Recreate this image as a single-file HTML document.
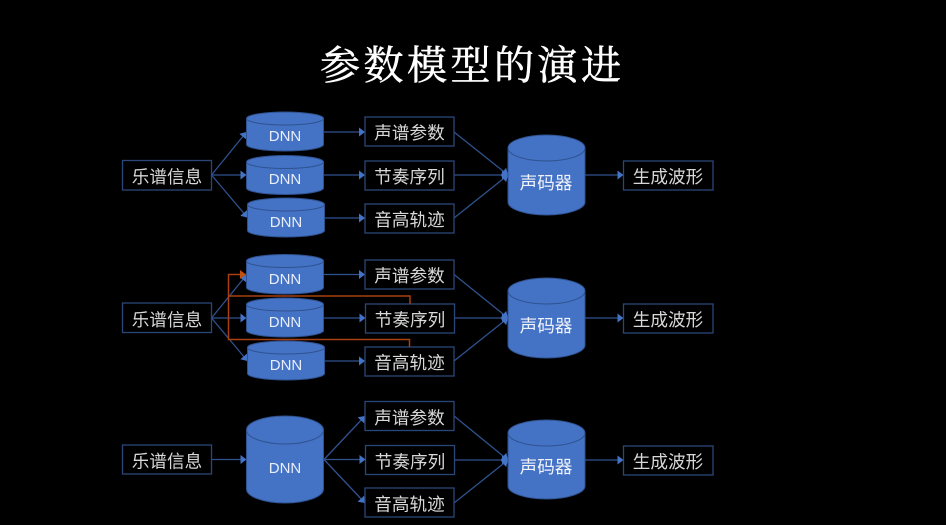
<!DOCTYPE html>
<html><head><meta charset="utf-8">
<style>
html,body{margin:0;padding:0;background:#000;width:946px;height:525px;overflow:hidden}
svg{display:block;filter:blur(.35px)}
text{font-family:"Liberation Sans","Noto Sans CJK SC",sans-serif;font-size:17.6px;fill:#d8d8d8;text-anchor:middle}
.n{transform:translateY(1px)}
.t{font-family:"Noto Serif CJK SC","Liberation Serif",serif;font-size:40px;fill:#fff;stroke:#fff;stroke-width:.5px;letter-spacing:3.5px;text-anchor:start}
.d{font-size:15px;fill:#e8eefa}
.c{fill:#f0f3fb}
.b{fill:#000;stroke:#2b4679;stroke-width:1.3}
.y{fill:#4472c4;stroke:#2f528f;stroke-width:1}
.l{fill:none;stroke:#2f528f;stroke-width:1.3;marker-end:url(#a)}
.o{fill:none;stroke:#a8400f;stroke-width:1.5}
</style></head><body>
<svg width="946" height="525" viewBox="0 0 946 525" xmlns="http://www.w3.org/2000/svg">
<defs>
<marker id="a" markerUnits="userSpaceOnUse" markerWidth="7" markerHeight="10" refX="6" refY="4.5" orient="auto"><path d="M0 0L6 4.5L0 9Z" fill="#4472c4"/></marker>
<marker id="r" markerUnits="userSpaceOnUse" markerWidth="7" markerHeight="10" refX="6" refY="4.5" orient="auto"><path d="M0 0L6 4.5L0 9Z" fill="#c2500f"/></marker>
</defs>
<rect width="946" height="525" fill="#000"/>
<text class="t" x="320" y="79">参数模型的演进</text>

<!-- row 1 -->
<path class="l" d="M211.5 175L246.5 132"/><path class="l" d="M211.5 175H246.5"/><path class="l" d="M211.5 175L247.5 217.5"/>
<path class="l" d="M324 132H365"/><path class="l" d="M324 175H365"/><path class="l" d="M324.5 218H365"/>
<path class="l" d="M454 132L508 175"/><path class="l" d="M454 175H508"/><path class="l" d="M454 218L508 175"/>
<path class="l" d="M585 175H623.5"/>
<rect class="b" x="122.5" y="160.5" width="89" height="29.5"/><text class="n" x="167" y="182">乐谱信息</text>
<path class="y" d="M246.5 118.5A38.5 6.5 0 0 1 323.5 118.5V144.5A38.5 6.5 0 0 1 246.5 144.5ZM323.5 118.5A38.5 6.5 0 0 1 246.5 118.5"/><text class="d" x="285" y="141">DNN</text>
<path class="y" d="M246.5 162A38.5 6.5 0 0 1 323.5 162V188A38.5 6.5 0 0 1 246.5 188ZM323.5 162A38.5 6.5 0 0 1 246.5 162"/><text class="d" x="285" y="184">DNN</text>
<path class="y" d="M247.5 204.5A38.5 6.5 0 0 1 324.5 204.5V230.5A38.5 6.5 0 0 1 247.5 230.5ZM324.5 204.5A38.5 6.5 0 0 1 247.5 204.5"/><text class="d" x="286" y="227">DNN</text>
<rect class="b" x="365" y="117" width="89" height="29"/><text class="n" x="409.5" y="138">声谱参数</text>
<rect class="b" x="365" y="161" width="89" height="29"/><text class="n" x="409.5" y="182">节奏序列</text>
<rect class="b" x="365" y="204" width="89" height="29"/><text class="n" x="409.5" y="225">音高轨迹</text>
<path class="y" d="M508 148A38.5 13 0 0 1 585 148V202A38.5 13 0 0 1 508 202ZM585 148A38.5 13 0 0 1 508 148"/><text class="c" x="546" y="189">声码器</text>
<rect class="b" x="623.5" y="161" width="89.5" height="29"/><text class="n" x="668" y="182">生成波形</text>

<!-- row 2 -->
<path class="l" d="M211.5 318L246.5 275"/><path class="l" d="M211.5 318H246.5"/><path class="l" d="M211.5 318L247.5 361"/>
<path class="l" d="M324 274.5H365"/><path class="l" d="M324 318H365.5"/><path class="l" d="M324.5 361H365"/>
<path class="l" d="M454 274.5L508 318"/><path class="l" d="M454.5 318H508"/><path class="l" d="M454 361L508 318"/>
<path class="l" d="M585 318H623.5"/>
<rect class="b" x="122.5" y="303" width="89" height="29.5"/><text class="n" x="167" y="325">乐谱信息</text>
<path class="y" d="M246.5 261A38.5 6.5 0 0 1 323.5 261V287.5A38.5 6.5 0 0 1 246.5 287.5ZM323.5 261A38.5 6.5 0 0 1 246.5 261"/><text class="d" x="285" y="284">DNN</text>
<path class="y" d="M246.5 304.5A38.5 6.5 0 0 1 323.5 304.5V330.5A38.5 6.5 0 0 1 246.5 330.5ZM323.5 304.5A38.5 6.5 0 0 1 246.5 304.5"/><text class="d" x="285" y="327">DNN</text>
<path class="y" d="M247.5 347.5A38.5 6.5 0 0 1 324.5 347.5V373.5A38.5 6.5 0 0 1 247.5 373.5ZM324.5 347.5A38.5 6.5 0 0 1 247.5 347.5"/><text class="d" x="286" y="370">DNN</text>
<rect class="b" x="365" y="260" width="89" height="29"/><text class="n" x="409.5" y="281">声谱参数</text>
<rect class="b" x="365.5" y="304" width="89" height="29"/><text class="n" x="410" y="325">节奏序列</text>
<rect class="b" x="365" y="347" width="89" height="29"/><text class="n" x="409.5" y="368">音高轨迹</text>
<path class="y" d="M508 291A38.5 13 0 0 1 585 291V345A38.5 13 0 0 1 508 345ZM585 291A38.5 13 0 0 1 508 291"/><text class="c" x="546" y="332">声码器</text>
<rect class="b" x="623.5" y="304" width="89.5" height="29"/><text class="n" x="668" y="325">生成波形</text>
<path class="o" d="M410 304V296H228.5"/>
<path class="o" d="M409.5 347V339.5H228.5V274.5H246" marker-end="url(#r)"/>

<!-- row 3 -->
<path class="l" d="M211.5 459.5H246.5"/>
<path class="l" d="M324 459.5L365 416"/><path class="l" d="M324 459.5H365.5"/><path class="l" d="M324 459.5L365 503"/>
<path class="l" d="M454 416L508 460"/><path class="l" d="M454.5 460H508"/><path class="l" d="M454 503L508 460"/>
<path class="l" d="M585 460H623.5"/>
<rect class="b" x="122.5" y="445" width="89" height="29"/><text class="n" x="167" y="466.5">乐谱信息</text>
<path class="y" d="M246.5 430A38.5 14 0 0 1 323.5 430V489A38.5 14 0 0 1 246.5 489ZM323.5 430A38.5 14 0 0 1 246.5 430"/><text class="d" x="285" y="473">DNN</text>
<rect class="b" x="365" y="401.5" width="89" height="29"/><text class="n" x="409.5" y="423">声谱参数</text>
<rect class="b" x="365.5" y="445.5" width="89" height="29"/><text class="n" x="410" y="467">节奏序列</text>
<rect class="b" x="365" y="488" width="89" height="29"/><text class="n" x="409.5" y="509.5">音高轨迹</text>
<path class="y" d="M508 433A38.5 13 0 0 1 585 433V486A38.5 13 0 0 1 508 486ZM585 433A38.5 13 0 0 1 508 433"/><text class="c" x="546" y="473">声码器</text>
<rect class="b" x="623.5" y="446" width="89.5" height="29"/><text class="n" x="668" y="467">生成波形</text>
</svg>
</body></html>
